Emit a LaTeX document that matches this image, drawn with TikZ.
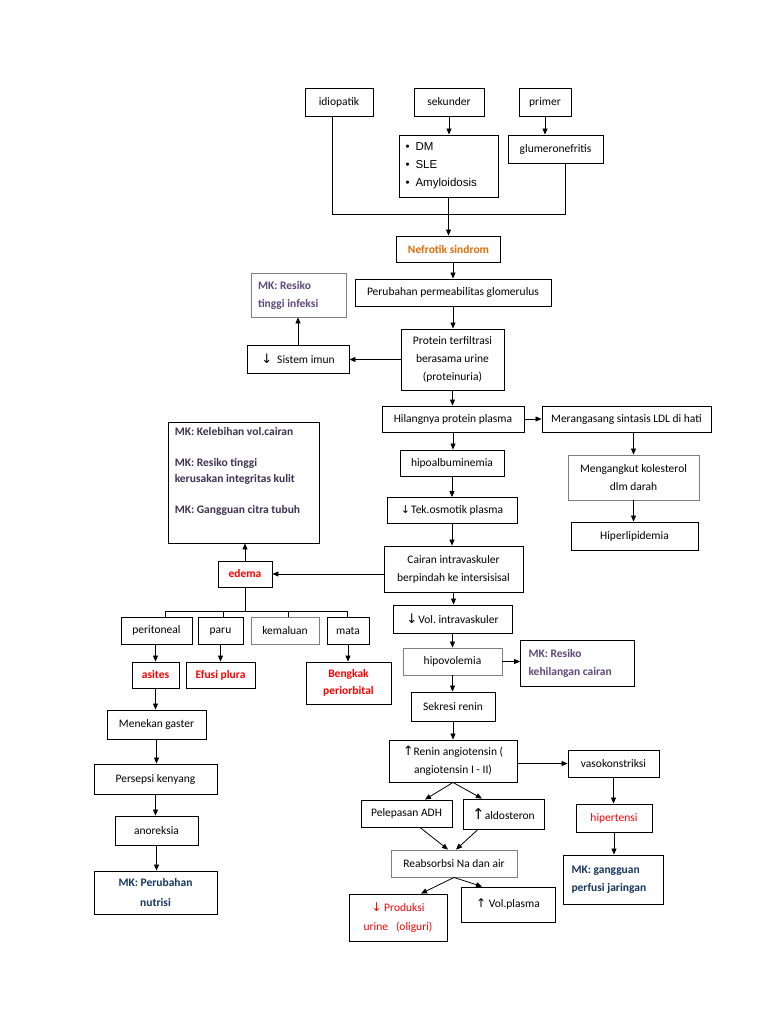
\documentclass[tikz,border=0pt]{standalone}
\usepackage{fontspec}
\setmainfont{Carlito}
\newfontfamily\arialf{Liberation Sans}
\newfontfamily\symf{DejaVu Sans}
\usetikzlibrary{arrows.meta,calc}
\definecolor{orng}{HTML}{E36C09}
\definecolor{mkpur}{HTML}{5F497A}
\definecolor{mkdpur}{HTML}{403152}
\definecolor{mkblue}{HTML}{17365D}
\definecolor{redt}{HTML}{FF0000}
\definecolor{gbord}{HTML}{7F7F7F}
\begin{document}
\frenchspacing
\begin{tikzpicture}[x=1pt,y=-1pt,
  every node/.style={font=\fontsize{11.5}{16}\selectfont},
  box/.style={draw, line width=0.9pt, inner sep=0pt, align=center},
  gbox/.style={box, draw=gbord},
  sz/.style 2 args={minimum width=#1pt, minimum height=#2pt},
  arr/.style={-{Triangle[length=6pt,width=5pt]}, line width=0.8pt},
  ln/.style={line width=0.8pt},
  mkb/.style={font=\fontsize{11.5}{18}\selectfont\bfseries},
  redb/.style={text=redt, font=\fontsize{11.5}{17}\selectfont\bfseries}]
\fill[white] (0,0) rectangle (768,1024);
\useasboundingbox (0,0) rectangle (768,1024);

% top row
\node[box, sz={68}{28}] (idio) at (339,102) {idiopatik};
\node[box, sz={70}{28}] (sek) at (449,102) {sekunder};
\node[box, sz={52}{28}] (prim) at (545,102) {primer};
\node[box, sz={99}{62}, text width=86pt, inner xsep=6pt, align=flush left,
  font=\arialf\fontsize{11.5}{18}\selectfont] (dm) at (448.5,166)
  {\textbullet\hspace{6pt}DM\\ \textbullet\hspace{6pt}SLE\\ \textbullet\hspace{6pt}Amyloidosis};
\node[box, sz={95}{28}] (glu) at (555.5,149) {glumeronefritis};
\node[box, sz={104}{26}, text=orng, font=\fontsize{11.5}{16}\selectfont\bfseries] (nef) at (448.5,249) {Nefrotik sindrom};

\coordinate (j1) at (332,214);
\coordinate (j2) at (565,214);
\draw[ln] (idio.south -| j1) -- (j1) -- (j2) -- (glu.south -| j2);
\draw[arr] (sek.south) -- (sek.south |- dm.north);
\draw[arr] (prim.south) -- (prim.south |- glu.north);
\draw[arr] (dm.south) -- (dm.south |- nef.north);

% protein chain
\node[box, sz={196}{27}] (perub) at (453,292.5) {Perubahan permeabilitas glomerulus};
\node[gbox, sz={95}{44}, mkb, text=mkpur, align=flush left, text width=81pt, inner xsep=7pt] (mkinf) at (298.5,295) {MK: Resiko\\tinggi infeksi};
\node[box, sz={102}{28}] (imun) at (298,359) {{\symf\fontsize{13}{13}\selectfont ↓}\hspace{5pt}Sistem imun};
\node[box, sz={103}{61}, font=\fontsize{11.5}{18}\selectfont] (prot) at (452.5,359.5) {Protein terfiltrasi\\berasama urine\\(proteinuria)};
\draw[arr] (nef.south -| perub.north) -- (perub.north);
\draw[arr] (perub.south) -- (perub.south |- prot.north);
\draw[arr] (prot.west) -- (prot.west -| imun.east);
\draw[arr] (imun.north) -- (imun.north |- mkinf.south);

\node[box, sz={142}{26}] (hil) at (453,419) {Hilangnya protein plasma};
\node[box, sz={169}{26}] (mer) at (626.5,419) {Merangasang sintasis LDL di hati};
\node[box, sz={104}{26}] (hipo) at (452,463) {hipoalbuminemia};
\node[box, sz={130}{26}] (tek) at (452,510.5) {{\symf\fontsize{11}{11}\selectfont ↓}\hspace{1pt}Tek.osmotik plasma};
\node[gbox, sz={131}{45}, font=\fontsize{11.5}{18}\selectfont] (meng) at (633.5,477.5) {Mengangkut kolesterol\\dlm darah};
\node[box, sz={127}{28}] (hiper) at (634.5,536) {Hiperlipidemia};
\node[box, sz={139}{46}, font=\fontsize{11.5}{18}\selectfont] (cair) at (453.5,569) {Cairan intravaskuler\\berpindah ke intersisisal};

\draw[arr] (prot.south) -- (prot.south |- hil.north);
\draw[arr] (hil.east) -- (mer.west);
\draw[arr] (hil.south) -- (hil.south |- hipo.north);
\draw[arr] (hipo.south) -- (hipo.south |- tek.north);
\draw[arr] (tek.south) -- (tek.south |- cair.north);
\draw[arr] (meng.north |- mer.south) -- (meng.north);
\draw[arr] (meng.south) -- (meng.south |- hiper.north);

% edema branch
\node[box, sz={151}{121}] (mkkel) at (243.5,482.5) {};
\node[anchor=north west, align=flush left, inner sep=0pt, text=mkdpur,
  font=\fontsize{11.5}{16}\selectfont\bfseries] (mkkeltxt) at ($(mkkel.north west)+(7,6)$)
  {MK: Kelebihan vol.cairan\\[15pt]MK: Resiko tinggi\\kerusakan integritas kulit\\[15pt]MK: Gangguan citra tubuh};
\node[box, sz={54}{26}, redb] (edema) at (245,574) {edema};
\draw[arr] (cair.west |- edema.east) -- (edema.east);
\draw[arr] (edema.north) -- (edema.north |- mkkel.south);

\node[box, sz={71}{27}] (perit) at (156.5,630.5) {peritoneal};
\node[box, sz={45}{27}, text height=8pt, text depth=2.5pt] (paru) at (220.5,630.5) {paru};
\node[gbox, sz={68}{27}] (kem) at (285,630.5) {kemaluan};
\node[box, sz={42}{27}] (mata) at (348,630.5) {mata};
\coordinate (b0) at (245,611);
\coordinate (b1) at (165,611);
\coordinate (b2) at (223,611);
\coordinate (b3) at (288,611);
\coordinate (b4) at (347,611);
\draw[ln] (edema.south) -- (edema.south |- b0);
\draw[ln] (b1 |- perit.north) -- (b1) -- (b4) -- (b4 |- mata.north);
\draw[ln] (b2) -- (b2 |- paru.north);
\draw[ln] (b3) -- (b3 |- kem.north);

\node[box, sz={47}{26}, redb] (asites) at (155.5,675) {asites};
\node[box, sz={69}{26}, redb] (efusi) at (220.5,675) {Efusi plura};
\node[box, sz={85}{42}, redb] (bengk) at (348.5,683) {Bengkak\\periorbital};
\draw[arr] (asites.north |- perit.south) -- (asites.north);
\draw[arr] (efusi.north |- paru.south) -- (efusi.north);
\draw[arr] (mata.south) -- (mata.south |- bengk.north);

\node[box, sz={99}{29}] (menek) at (156.5,724.5) {Menekan gaster};
\node[box, sz={123}{30}] (pers) at (155.5,779) {Persepsi kenyang};
\node[box, sz={83}{29}] (anor) at (156.5,830.5) {anoreksia};
\node[box, sz={123}{43}, mkb, text=mkblue, font=\fontsize{11.5}{20}\selectfont\bfseries] (mknut) at (155.5,892.5) {MK: Perubahan\\nutrisi};
\draw[arr] (asites.south) -- (asites.south |- menek.north);
\draw[arr] (menek.south) -- (menek.south |- pers.north);
\draw[arr] (pers.south) -- (pers.south |- anor.north);
\draw[arr] (anor.south) -- (anor.south |- mknut.north);

% volume chain
\node[box, sz={119}{28}] (vol) at (452.5,619) {{\symf\fontsize{13}{13}\selectfont ↓}\hspace{1pt}Vol. intravaskuler};
\node[gbox, sz={99}{27}] (hipov) at (452.5,661.5) {hipovolemia};
\node[box, sz={113}{46}, mkb, text=mkpur, align=flush left, text width=98pt, inner xsep=8pt] (mkkeh) at (577.5,663) {MK: Resiko\\kehilangan cairan};
\node[box, sz={84}{29}] (sekr) at (453,706.5) {Sekresi renin};
\node[box, sz={128}{42}, font=\fontsize{11.5}{18}\selectfont] (renin) at (453,761) {{\symf\fontsize{13}{13}\selectfont ↑}Renin angiotensin (\\angiotensin I - II)};
\draw[arr] (cair.south) -- (cair.south |- vol.north);
\draw[arr] (vol.south) -- (vol.south |- hipov.north);
\draw[arr] (hipov.east) -- (hipov.east -| mkkeh.west);
\draw[arr] (hipov.south) -- (hipov.south |- sekr.north);
\draw[arr] (sekr.south) -- (sekr.south |- renin.north);

\node[box, sz={91}{27}] (vaso) at (613.5,763.5) {vasokonstriksi};
\node[box, sz={76}{28}, text=redt] (hipert) at (614,818) {hipertensi};
\node[box, sz={99}{49}, mkb, text=mkblue, align=flush left, text width=84pt, inner xsep=8pt] (mkperf) at (613.5,879.5) {MK: gangguan\\perfusi jaringan};
\draw[arr] (renin.east |- vaso.west) -- (vaso.west);
\draw[arr] (vaso.south) -- (vaso.south |- hipert.north);
\draw[arr] (hipert.south) -- (hipert.south |- mkperf.north);

\node[box, sz={91}{27}] (adh) at (406.5,813.5) {Pelepasan ADH};
\node[box, sz={81}{30}] (ald) at (503.5,814) {{\symf\fontsize{15}{15}\selectfont ↑}aldosteron};
\node[gbox, sz={126}{27}] (reab) at (454,863.5) {Reabsorbsi Na dan air};
\node[box, sz={98}{47}, text=redt, font=\fontsize{11.5}{19}\selectfont] (prod) at (398,917.5) {{\symf\fontsize{12}{12}\selectfont ↓} Produksi\\urine\hspace{8pt}(oliguri)};
\node[box, sz={94}{35}] (volp) at (508,904.5) {{\symf\fontsize{12}{12}\selectfont ↑} Vol.plasma};
\draw[arr] (renin.south) -- ($(adh.north)+(18.5,0)$);
\draw[arr] (renin.south) -- ($(ald.north)+(-21.5,0)$);
\draw[arr] ($(adh.south)+(13.5,0)$) -- ($(reab.north)+(-6,0)$);
\draw[arr] ($(ald.south)+(-25.5,0)$) -- ($(reab.north)+(2,0)$);
\draw[arr] (reab.south) -- ($(prod.north)+(23,0)$);
\draw[arr] (reab.south) -- ($(volp.north)+(-26,0)$);
\end{tikzpicture}
\end{document}
